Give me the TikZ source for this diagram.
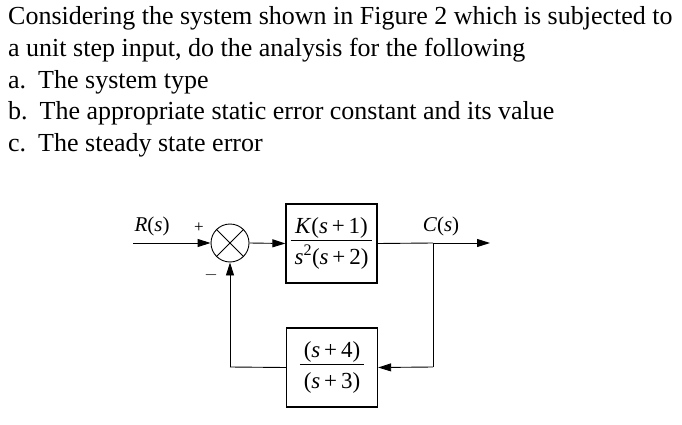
\documentclass[tikz,border=0pt]{standalone}
\usepackage{fontspec}
\setmainfont{Liberation Serif}
\usetikzlibrary{arrows.meta}
\newcommand{\fracbox}[2]{\begin{tabular}{@{\,}c@{\,}}#1\\[-1pt]\hline\rule{0pt}{24pt}#2\end{tabular}}
\begin{document}
\begin{tikzpicture}[x=1pt,y=-1pt,
  blk/.style={draw,line width=1.3pt,minimum width=91pt,minimum height=79pt,inner sep=0pt,font=\fontsize{23}{27}\selectfont},
  sig/.style={line width=0.9pt,-{Triangle[length=13pt,width=8pt]}},
  ln/.style={line width=0.9pt},
  txt/.style={anchor=west,inner sep=0pt,font=\fontsize{26}{30}\selectfont}]
\useasboundingbox (0,0) rectangle (682,425);
\node[txt] (l1) at (8,18) {Considering the system shown in Figure 2 which is subjected to};
\node[txt] (l2) at (8,50) {a unit step input, do the analysis for the following};
\node[txt] (l3) at (8,82) {a.\hspace{12pt}The system type};
\node[txt] (l4) at (8,113) {b.\hspace{12pt}The appropriate static error constant and its value};
\node[txt] (l5) at (8,145) {c.\hspace{12pt}The steady state error};
\node[draw,circle,line width=0.9pt,minimum size=38pt,inner sep=0pt] (sum) at (230,243) {};
\draw[line width=0.9pt] (sum.north west)--(sum.south east) (sum.north east)--(sum.south west);
\node[blk] (g) at (331.5,243.5) {\fracbox{\textit{K}(\textit{s}\,+\,1)}{\textit{s}\textsuperscript{2}(\textit{s}\,+\,2)}};
\node[blk] (h) at (332,367.5) {\fracbox{(\textit{s}\,+\,4)}{(\textit{s}\,+\,3)}};
\coordinate (in) at (133,243);
\coordinate (tap) at (433,243);
\coordinate (out) at (490,243);
\coordinate (br) at (433,367);
\coordinate (bl) at (230,367);
\draw[sig] (in) -- (sum.west);
\draw[sig] (sum.east) -- (g.west);
\draw[ln] (g.east) -- (tap);
\draw[sig] (tap) -- (out);
\draw[ln] (tap) -- (br);
\draw[sig] (br) -- (h.east);
\draw[ln] (h.west) -- (bl);
\draw[sig] (bl) -- (sum.south);
\node (R) at (152,226) {\fontsize{21}{24}\selectfont \textit{R}(\textit{s})};
\node (plus) at (199,228) {\fontsize{17}{20}\selectfont +};
\node (minus) at (211,275) {\fontsize{17}{20}\selectfont $-$};
\node (C) at (441,226) {\fontsize{21}{24}\selectfont \textit{C}(\textit{s})};
\end{tikzpicture}
\end{document}
